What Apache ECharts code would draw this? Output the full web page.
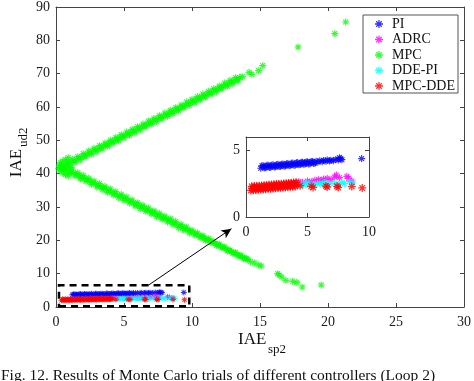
<!DOCTYPE html>
<html><head><meta charset="utf-8">
<script src="https://cdn.jsdelivr.net/npm/echarts@6/dist/echarts.min.js"></script>
<style>html,body{margin:0;padding:0;background:#fff}#c{width:474px;height:381px}</style>
</head><body><div id="c"></div>
<script>
// ---- data ----
const seriesNames = ['PI', 'ADRC', 'MPC', 'DDE-PI', 'MPC-DDE'];
const xTicksMain = [0, 5, 10, 15, 20, 25, 30];
const yTicksMain = [0, 10, 20, 30, 40, 50, 60, 70, 80, 90];
const xTicksInset = [0, 5, 10];
const yTicksInset = [0, 5];

const piData = [[1.2,3.66],[1.3,3.84],[1.4,3.85],[1.5,3.69],[1.6,3.70],[1.7,3.88],[1.8,3.89],[1.9,3.72],[2.0,3.73],[2.1,3.90],
[2.2,3.92],[2.3,3.75],[2.4,3.76],[2.5,3.93],[2.6,3.95],[2.7,3.78],[2.8,3.80],[2.9,3.96],[3.0,3.98],[3.1,3.81],
[3.2,3.83],[3.3,4.00],[3.4,4.01],[3.5,3.85],[3.6,3.86],[3.7,4.03],[3.8,4.05],[3.9,3.88],[4.0,3.89],[4.1,4.06],
[4.2,4.08],[4.3,3.91],[4.4,3.93],[4.5,4.10],[4.6,4.11],[4.7,3.95],[4.8,3.97],[4.9,4.13],[5.0,4.14],[5.1,3.98],
[5.2,4.00],[5.3,4.16],[5.4,4.17],[5.5,4.02],[5.6,4.04],[5.7,4.18],[5.85,4.12],[6.0,4.22],[6.2,4.15],[6.3,4.24],
[6.5,4.18],[6.6,4.28],[6.8,4.20],[6.9,4.26],[7.1,4.22],[7.3,4.32],[7.5,4.28],[7.6,4.45],[7.7,4.36],[7.8,4.30],[9.4,4.38]];

const adrcData = [[4.0,2.55],[4.3,2.65],[4.6,2.6],[5.0,2.7],[5.3,2.65],[5.6,2.75],[5.9,2.8],[6.1,2.7],[6.3,2.85],[6.6,2.9],
[6.9,2.8],[7.2,3.0],[7.35,3.15],[7.6,2.95],[8.2,3.05],[8.35,2.9],[8.6,2.7]];

const mpcData = [
[0.2,41.5],[0.25,42.5],[0.3,40.8],[0.35,43.3],[0.3,42.0],[0.5,40.2],[0.5,43.8],[0.7,44.2],[0.7,39.7],[0.9,44.8],[0.9,39.3],[1.1,41.8],
[0.4,42.7],[0.6,41.7],[0.8,43.5],[1.0,42.5],[1.2,44.3],[1.4,43.3],[1.6,45.1],[1.8,44.2],[2.0,46.0],[2.2,45.0],[2.4,46.8],[2.6,45.8],
[2.8,47.6],[3.0,46.6],[3.2,48.4],[3.4,47.4],[3.6,49.2],[3.8,48.2],[4.0,50.0],[4.2,49.1],[4.4,50.9],[4.6,49.9],[4.8,51.7],[5.0,50.7],
[5.2,52.5],[5.4,51.5],[5.6,53.3],[5.8,52.3],[6.0,54.1],[6.2,53.1],[6.4,54.9],[6.6,54.0],[6.8,55.8],[7.0,54.8],[7.2,56.6],[7.4,55.6],
[7.6,57.4],[7.8,56.4],[8.0,58.2],[8.2,57.2],[8.4,59.0],[8.6,58.0],[8.8,59.8],[9.0,58.9],[9.2,60.6],[9.4,59.7],[9.6,61.5],[9.8,60.5],
[10.0,62.3],[10.2,61.3],[10.4,63.1],[10.6,62.1],[10.8,63.9],[11.0,62.9],[11.2,64.7],[11.4,63.8],[11.6,65.5],[11.8,64.6],[12.0,66.3],
[12.2,65.4],[12.4,67.2],[12.6,66.2],[12.8,68.0],[13.0,67.0],[13.2,68.8],[13.4,67.8],[13.5,68.9],[13.7,69.1],
[0.5,42.20],[0.7,42.61],[0.9,43.02],[1.1,43.43],[1.3,43.84],[1.5,44.24],[1.7,44.65],[1.9,45.06],[2.1,45.47],[2.3,45.88],[2.5,46.28],
[2.7,46.69],[2.9,47.10],[3.1,47.51],[3.3,47.92],[3.5,48.32],[3.7,48.73],[3.9,49.14],[4.1,49.55],[4.3,49.96],[4.5,50.36],[4.7,50.77],
[4.9,51.18],[5.1,51.59],[5.3,52.00],[5.5,52.40],[5.7,52.81],[5.9,53.22],[6.1,53.63],[6.3,54.04],[6.5,54.44],[6.7,54.85],[6.9,55.26],
[7.1,55.67],[7.3,56.08],[7.5,56.48],[7.7,56.89],[7.9,57.30],[8.1,57.71],[8.3,58.12],[8.5,58.52],[8.7,58.93],[8.9,59.34],[9.1,59.75],
[9.3,60.16],[9.5,60.56],[9.7,60.97],[9.9,61.38],[10.1,61.79],[10.3,62.20],[10.5,62.60],[10.7,63.01],[10.9,63.42],[11.1,63.83],
[11.3,64.24],[11.5,64.64],[11.7,65.05],[11.9,65.46],[12.1,65.87],[12.3,66.28],[12.5,66.68],[12.7,67.09],[12.9,67.50],[13.1,67.91],[13.3,68.32],
[14.2,70.4],[14.4,69.8],[14.9,70.9],[15.2,72.4],[17.8,78.0],[20.5,82.0],[21.3,85.5],
[0.6,40.9],[0.8,41.9],[1.0,40.1],[1.2,41.1],[1.4,39.3],[1.6,40.3],[1.8,38.5],[2.0,39.5],[2.2,37.7],[2.4,38.6],[2.6,36.8],[2.8,37.8],
[3.0,36.0],[3.2,37.0],[3.4,35.2],[3.6,36.2],[3.8,34.4],[4.0,35.4],[4.2,33.6],[4.4,34.6],[4.6,32.8],[4.8,33.8],[5.0,32.0],[5.2,33.0],
[5.4,31.2],[5.6,32.1],[5.8,30.3],[6.0,31.3],[6.2,29.5],[6.4,30.5],[6.6,28.7],[6.8,29.7],[7.0,27.9],[7.2,28.9],[7.4,27.1],[7.6,28.1],
[7.8,26.3],[8.0,27.3],[8.2,25.5],[8.4,26.5],[8.6,24.7],[8.8,25.7],[9.0,23.8],[9.2,24.8],[9.4,23.0],[9.6,24.0],[9.8,22.2],[10.0,23.0],
[10.2,21.6],[10.4,22.2],[10.6,20.8],[10.8,21.4],[11.0,20.0],[11.2,20.5],[11.4,19.3],[11.6,19.7],[11.8,18.5],[12.0,18.9],[12.2,17.7],
[12.4,18.0],[12.6,16.8],[12.8,17.1],[13.0,16.1],[13.2,16.3],[13.4,15.3],[13.6,15.5],[13.8,14.5],[14.0,14.6],[14.3,13.6],[14.6,13.2],
[0.5,41.80],[0.7,41.39],[0.9,40.99],[1.1,40.58],[1.3,40.18],[1.5,39.77],[1.7,39.36],[1.9,38.96],[2.1,38.55],[2.3,38.15],[2.5,37.74],
[2.7,37.33],[2.9,36.93],[3.1,36.52],[3.3,36.12],[3.5,35.71],[3.7,35.30],[3.9,34.90],[4.1,34.49],[4.3,34.09],[4.5,33.68],[4.7,33.27],
[4.9,32.87],[5.1,32.46],[5.3,32.06],[5.5,31.65],[5.7,31.24],[5.9,30.84],[6.1,30.43],[6.3,30.03],[6.5,29.62],[6.7,29.21],[6.9,28.81],
[7.1,28.40],[7.3,28.00],[7.5,27.59],[7.7,27.18],[7.9,26.78],[8.1,26.37],[8.3,25.97],[8.5,25.56],[8.7,25.15],[8.9,24.75],[9.1,24.34],
[9.3,23.94],[9.5,23.53],[9.7,23.12],[9.9,22.72],[10.1,22.31],[10.3,21.91],[10.5,21.50],[10.7,21.09],[10.9,20.69],[11.1,20.28],
[11.3,19.88],[11.5,19.47],[11.7,19.06],[11.9,18.66],[12.1,18.25],[12.3,17.85],[12.5,17.44],[12.7,17.03],[12.9,16.63],[13.1,16.22],
[13.3,15.82],[13.5,15.41],[13.7,15.0],[13.9,14.6],[14.1,14.2],
[14.9,12.6],[15.1,12.3],[16.3,10.0],[16.4,9.6],[16.6,9.0],[16.9,8.0],[17.4,7.7],[17.7,7.4],[18.1,6.0],[19.5,6.6]];

const ddePiData = [[4.2,2.45],[4.4,2.35],[4.5,2.5],[4.7,2.4],[4.9,2.55],[5.0,2.42],[5.2,2.5],[5.5,2.45],[5.8,2.5],[6.0,2.55],
[6.2,2.45],[6.4,2.6],[6.8,2.5],[7.2,2.55],[7.5,2.45],[7.8,2.6],[8.0,2.5],[8.4,2.65],[8.7,2.55]];

const mpcDdeData = [[0.4,1.99],[0.47,2.30],[0.53,2.15],[0.6,2.01],[0.67,2.32],[0.73,2.17],[0.8,2.02],[0.87,2.33],[0.93,2.18],
[1.0,2.04],[1.07,2.35],[1.13,2.20],[1.2,2.06],[1.27,2.37],[1.33,2.22],[1.4,2.07],[1.47,2.38],[1.53,2.23],[1.6,2.09],[1.67,2.40],[1.73,2.25],
[1.8,2.11],[1.87,2.42],[1.93,2.27],[2.0,2.12],[2.07,2.43],[2.13,2.28],[2.2,2.14],[2.27,2.45],[2.33,2.30],[2.4,2.16],[2.47,2.47],[2.53,2.32],
[2.6,2.17],[2.67,2.48],[2.73,2.33],[2.8,2.19],[2.87,2.50],[2.93,2.35],[3.0,2.21],[3.07,2.52],[3.13,2.37],[3.2,2.22],[3.27,2.53],[3.33,2.38],
[3.4,2.24],[3.47,2.55],[3.53,2.40],[3.6,2.26],[3.67,2.57],[3.73,2.42],[3.8,2.27],[3.87,2.58],[3.93,2.43],[4.0,2.29],[4.07,2.60],[4.13,2.45],
[4.4,2.35],[5.3,2.30],[5.45,2.22],[6.5,2.32],[6.6,2.25],[7.4,2.30],[7.5,2.22],[8.6,2.28],[9.45,2.18]];

const zoomBox = [[0.22, 0.2], [9.8, 6.5]];
const arrowLine = [[6.8, 6.55], [12.9, 23.5]];

// ---- drawing ----
const colors = {'PI':'#0000ff','ADRC':'#ff00ff','MPC':'#00ff00','DDE-PI':'#00ffff','MPC-DDE':'#ff0000'};
const STAR = 'path://M-0.16,-1L0.16,-1L0.16,1L-0.16,1Z M-1,-0.16L1,-0.16L1,0.16L-1,0.16Z M-0.587,-0.813L0.813,0.587L0.587,0.813L-0.813,-0.587Z M0.587,-0.813L0.813,-0.587L-0.587,0.813L-0.813,0.587Z';
const FONT = 'Liberation Serif';
const AX = '#444';

function axisCommon(min, max, interval, showLabel, extra) {
  return Object.assign({
    type: 'value', min: min, max: max, interval: interval,
    axisLine: {show: true, onZero: false, lineStyle: {color: AX, width: 1}},
    axisTick: {show: true, inside: true, length: 4, lineStyle: {color: AX}},
    axisLabel: {show: showLabel, color: '#1a1a1a', fontFamily: FONT, fontSize: 14},
    splitLine: {show: false}
  }, extra || {});
}

const chart = echarts.init(document.getElementById('c'));
function sc(name, data, xi, yi, size, extra) {
  return Object.assign({
    type: 'scatter', name: name, data: data, xAxisIndex: xi, yAxisIndex: yi,
    symbol: STAR, symbolSize: size, itemStyle: {color: colors[name]},
    emphasis: {disabled: true}, silent: true
  }, extra || {});
}

chart.setOption({
  animation: false,
  backgroundColor: '#fff',
  grid: [
    {left: 56, top: 5, width: 410, height: 302, show: false},
    {left: 246, top: 137, width: 123, height: 80, show: true, backgroundColor: '#fff', borderWidth: 0}
  ],
  xAxis: [
    axisCommon(xTicksMain[0], xTicksMain[xTicksMain.length-1], 5, true, {gridIndex: 0, position: 'bottom', axisLabel: {color:'#1a1a1a', fontFamily: FONT, fontSize: 14, margin: 8}}),
    axisCommon(xTicksMain[0], xTicksMain[xTicksMain.length-1], 5, false, {gridIndex: 0, position: 'top'}),
    axisCommon(xTicksInset[0], xTicksInset[xTicksInset.length-1], 5, true, {gridIndex: 1, position: 'bottom', axisLabel: {color:'#1a1a1a', fontFamily: FONT, fontSize: 14, margin: 8}}),
    axisCommon(xTicksInset[0], xTicksInset[xTicksInset.length-1], 5, false, {gridIndex: 1, position: 'top'})
  ],
  yAxis: [
    axisCommon(yTicksMain[0], yTicksMain[yTicksMain.length-1], 10, true, {gridIndex: 0, position: 'left', axisLabel: {color:'#1a1a1a', fontFamily: FONT, fontSize: 14, margin: 6}}),
    axisCommon(yTicksMain[0], yTicksMain[yTicksMain.length-1], 10, false, {gridIndex: 0, position: 'right'}),
    axisCommon(yTicksInset[0], 6, 5, true, {gridIndex: 1, position: 'left', axisLabel: {color:'#1a1a1a', fontFamily: FONT, fontSize: 14, margin: 6}}),
    axisCommon(yTicksInset[0], 6, 5, false, {gridIndex: 1, position: 'right'})
  ],
  legend: {
    data: seriesNames, orient: 'vertical', left: 363, top: 15,
    backgroundColor: '#fff', borderColor: '#555', borderWidth: 1, borderRadius: 0,
    padding: [2, 3, 0, 12], itemGap: 1.5, itemWidth: 8, itemHeight: 8,
    textStyle: {fontFamily: FONT, fontSize: 14, color: '#111', lineHeight: 14, padding: [0,0,0,4]},
    selectedMode: false
  },
  series: [
    sc('PI', piData, 0, 0, 6),
    sc('ADRC', adrcData, 0, 0, 6),
    sc('MPC', mpcData, 0, 0, 7, {
      markArea: {silent: true, itemStyle: {color: 'rgba(0,0,0,0)', borderColor: '#000', borderWidth: 2.5, borderType: [7, 5]},
        data: [[{coord: zoomBox[0]}, {coord: zoomBox[1]}]]},
      markLine: {silent: true, symbol: ['none', 'arrow'], symbolSize: [7, 10], label: {show: false},
        lineStyle: {color: '#000', width: 1, type: 'solid'},
        data: [[{coord: arrowLine[0]}, {coord: arrowLine[1]}]]}
    }),
    sc('DDE-PI', ddePiData, 0, 0, 6),
    sc('MPC-DDE', mpcDdeData, 0, 0, 6),
    sc('PI', piData, 2, 2, 7),
    sc('ADRC', adrcData, 2, 2, 7),
    sc('DDE-PI', ddePiData, 2, 2, 7),
    sc('MPC-DDE', mpcDdeData, 2, 2, 8)
  ],
  graphic: [
    {type: 'text', left: 238, top: 331, style: {text: 'IAE', font: '17px "Liberation Serif"', fill: '#111'}},
    {type: 'text', left: 268, top: 343, style: {text: 'sp2', font: '13px "Liberation Serif"', fill: '#111'}},
    {type: 'group', x: 17, y: 163, rotation: Math.PI / 2, children: [
      {type: 'text', x: 0, y: 0, style: {text: 'IAE', font: '17px "Liberation Serif"', fill: '#111', align: 'center', verticalAlign: 'middle'}},
      {type: 'text', x: 16, y: 7, style: {text: 'ud2', font: '13px "Liberation Serif"', fill: '#111', align: 'left', verticalAlign: 'middle'}}
    ]},
    {type: 'text', left: 1, top: 368, style: {text: 'Fig. 12. Results of Monte Carlo trials of different controllers (Loop 2)', font: '15.5px "Liberation Serif"', fill: '#111'}}
  ]
});
</script>
</body></html>
